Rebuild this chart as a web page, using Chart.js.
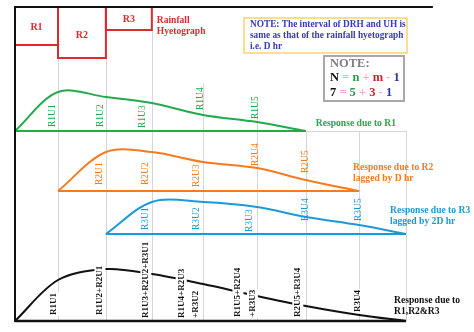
<!DOCTYPE html>
<html lang="en">
<head>
<meta charset="UTF-8">
<title>DRH from a 3-block rainfall hyetograph</title>
<style>
    body { margin: 0; padding: 0; background: #fff; }
    .chart-box { width: 474px; height: 332px; position: relative; }
</style>
</head>
<body>
<div class="chart-box"><canvas id="drh"></canvas></div>

<script src="https://cdn.jsdelivr.net/npm/chart.js"></script>
<script>
// step lines of the D-hr grid (hours, as drawn)
const stepHours = [0, 0.88, 1.86, 2.8, 3.85, 4.95, 5.95, 7.04, 8];

// rainfall blocks
const rainNames = ['R1', 'R2', 'R3'];
const rainDepth = [38, 51, 23];

// ordinates at each step for the three lagged responses and the total DRH
const r1Flow = [0, 39, 34, 28, 16, 9, 0];
const r2Flow = [0, 39, 39, 29, 23, 11, 0];
const r3Flow = [0, 32, 32, 27, 17, 9, 0];
const drhFlow = [0, 41, 52, 47, 37, 25, 15, 6, 0];
const drhLabels = [['R1U1'], ['R1U2+R2U1'], ['R1U3+R2U2+R3U1'], ['R1U4+R2U3', '+R3U2'],
                   ['R1U5+R2U4', '+R3U3'], ['R2U5+R3U4'], ['R3U4']];

// vertical layout of the panels (y units)
const hyetoTop = 314;
const panels = [
    { flow: r1Flow, lag: 0, base: 190, color: '#22aa4c', name: 'R1',
      labelPos: [[-6, 4], [-5, 4], [-9, 3], [-3, 21], [-1, 12]],
      note: ['Response due to R1'], noteAt: [6, 10, -7] },
    { flow: r2Flow, lag: 1, base: 130, color: '#f47b20', name: 'R2',
      labelPos: [[-6, 6], [-6, 6], [-7, 4], [-1, 25], [0, 18]],
      note: ['Response due to R2', 'lagged by D hr'], noteAt: [7, -6, -23] },
    { flow: r3Flow, lag: 2, base: 87, color: '#1b9ad6', name: 'R3',
      labelPos: [[-6, 4], [-7, 4], [-7, 2], [0, 13], [-1, 13]],
      note: ['Response due to R3', 'lagged by 2D hr'], noteAt: [8, -16, -23] }
];
const drhLabelPos = [[-4, 6], [-6, 6], [-6, 3], [-22, 3], [-19, 4], [-8, 4], [-1, 9]];
const gridFrom = [hyetoTop, 263, 263, 291, 238, 224, 190, 190, 190];

const SERIF = '"Liberation Serif", "Times New Roman", serif';

function series(flow, lag, base) {
    return flow.map((q, k) => ({ x: stepHours[k + lag], y: base + q }));
}
function baseLine(from, to, base) {
    return [{ x: stepHours[from], y: base }, { x: stepHours[to], y: base }];
}

const datasets = [];
panels.forEach(p => {
    datasets.push({ data: series(p.flow, p.lag, p.base), borderColor: p.color, borderWidth: 2, tension: 0.33 });
    datasets.push({ data: baseLine(p.lag, p.lag + p.flow.length - 1, p.base), borderColor: p.color, borderWidth: 2 });
});
datasets.push({ data: series(drhFlow, 0, 0), borderColor: '#111', borderWidth: 2, tension: 0.33 });
datasets.push({ data: baseLine(0, 8, 0), borderColor: '#111', borderWidth: 2.5 });

// rotated label, bottom-up, one column per line
function vLabel(ctx, lines, cx, bottom, color, font, backed) {
    ctx.save();
    ctx.translate(cx, bottom);
    ctx.rotate(-Math.PI / 2);
    ctx.font = font;
    ctx.textAlign = 'left';
    ctx.textBaseline = 'middle';
    lines.forEach((s, k) => {
        const w = ctx.measureText(s).width;
        if (backed) {
            ctx.fillStyle = '#fff';
            ctx.fillRect(-1, k * 14.5 - 5.5, w + 2, 11);
        }
        ctx.fillStyle = color;
        ctx.fillText(s, 0, k * 14.5);
    });
    ctx.restore();
}

function textLines(ctx, lines, left, top, gap, color, font) {
    ctx.font = font;
    ctx.fillStyle = color;
    ctx.textAlign = 'left';
    ctx.textBaseline = 'middle';
    lines.forEach((s, k) => ctx.fillText(s, left, top + k * gap));
}

function coloured(ctx, parts, left, y, font) {
    ctx.font = font;
    ctx.textBaseline = 'middle';
    ctx.textAlign = 'left';
    let px = left;
    parts.forEach(([s, c]) => {
        ctx.fillStyle = c;
        ctx.fillText(s, px, y);
        px += ctx.measureText(s).width;
    });
}

const sketch = {
    id: 'sketch',
    beforeDatasetsDraw(chart) {
        const { ctx, scales: { x, y } } = chart;
        ctx.save();
        // step lines
        ctx.strokeStyle = '#d6d6d6';
        ctx.lineWidth = 1;
        stepHours.forEach((t, i) => {
            if (!i) return;
            const px = Math.round(x.getPixelForValue(t)) + 0.5;
            ctx.beginPath();
            ctx.moveTo(px, y.getPixelForValue(gridFrom[i]));
            ctx.lineTo(px, y.getPixelForValue(0));
            ctx.stroke();
        });
        ctx.beginPath();
        ctx.moveTo(x.getPixelForValue(stepHours[6]), y.getPixelForValue(190) + 0.5);
        ctx.lineTo(x.getPixelForValue(stepHours[8]), y.getPixelForValue(190) + 0.5);
        ctx.stroke();

        // rainfall hyetograph blocks hanging from the top line
        ctx.strokeStyle = '#dc2a2e';
        ctx.lineWidth = 2;
        rainDepth.forEach((d, i) => {
            const x0 = x.getPixelForValue(stepHours[i]);
            const x1 = x.getPixelForValue(stepHours[i + 1]);
            const yt = y.getPixelForValue(hyetoTop);
            const yb = y.getPixelForValue(hyetoTop - d);
            ctx.beginPath();
            ctx.moveTo(x0, yt); ctx.lineTo(x0, yb); ctx.lineTo(x1, yb); ctx.lineTo(x1, yt);
            ctx.stroke();
            ctx.font = 'bold 10px ' + SERIF;
            ctx.fillStyle = '#dc2a2e';
            ctx.textAlign = 'center';
            ctx.textBaseline = 'middle';
            ctx.fillText(rainNames[i], (x0 + x1) / 2, yt + (yb - yt) * 0.55);
        });
        textLines(ctx, ['Rainfall', 'Hyetograph'], x.getPixelForValue(stepHours[3]) + 5,
                  y.getPixelForValue(hyetoTop) + 14, 11, '#dc2a2e', 'bold 9.5px ' + SERIF);
        ctx.restore();
    },
    afterDatasetsDraw(chart) {
        const { ctx, scales: { x, y } } = chart;
        ctx.save();
        const labelFont = '9.5px ' + SERIF;

        panels.forEach(p => {
            const yb = y.getPixelForValue(p.base);
            p.labelPos.forEach(([dx, lift], j) => {
                const px = x.getPixelForValue(stepHours[p.lag + j + 1]) + dx;
                vLabel(ctx, [p.name + 'U' + (j + 1)], px, yb - lift, p.color, labelFont, false);
            });
            const [si, nx, ny] = p.noteAt;
            textLines(ctx, p.note, x.getPixelForValue(stepHours[si]) + nx, yb + ny, 11,
                      p.color, 'bold 9.6px ' + SERIF);
        });

        const y0 = y.getPixelForValue(0);
        drhLabelPos.forEach(([dx, lift], j) => {
            const px = x.getPixelForValue(stepHours[j + 1]) + dx;
            vLabel(ctx, drhLabels[j], px, y0 - lift, '#111', 'bold 9px ' + SERIF, true);
        });
        textLines(ctx, ['Response due to', 'R1,R2&R3'], x.getPixelForValue(stepHours[8]) - 12,
                  y0 - 20, 11, '#111', 'bold 9.6px ' + SERIF);

        // frame: top line and time axis
        const left = x.getPixelForValue(0);
        const top = y.getPixelForValue(hyetoTop);
        ctx.strokeStyle = '#111';
        ctx.lineWidth = 2;
        ctx.beginPath();
        ctx.moveTo(left, y0 + 1); ctx.lineTo(left, top); ctx.lineTo(x.getPixelForValue(8.55), top);
        ctx.stroke();

        // notes
        ctx.strokeStyle = '#f7d56a';
        ctx.lineWidth = 1.5;
        ctx.strokeRect(244, 18, 163, 35);
        textLines(ctx, ['NOTE: The interval of DRH and UH is', 'same as that of the rainfall hyetograph', 'i.e. D hr'],
                  250, 25, 11, '#3a3ab8', 'bold 9.3px ' + SERIF);

        ctx.strokeStyle = '#a8a8a8';
        ctx.lineWidth = 2;
        ctx.strokeRect(324, 56, 80, 45);
        textLines(ctx, ['NOTE:'], 330, 64, 0, '#808080', 'bold 12.5px ' + SERIF);
        const op = '#f4a9c8';
        const f2 = 'bold 12.5px ' + SERIF;
        coloured(ctx, [['N', '#111'], [' = ', op], ['n', '#2e9b48'], [' + ', op], ['m', '#d61f26'], [' - ', op], ['1', '#2b3a9e']], 330, 78, f2);
        coloured(ctx, [['7', '#111'], [' = ', op], ['5', '#2e9b48'], [' + ', op], ['3', '#d61f26'], [' - ', op], ['1', '#2b3a9e']], 330, 93, f2);
        ctx.restore();
    }
};

new Chart(document.getElementById('drh'), {
    type: 'scatter',
    data: { datasets },
    options: {
        responsive: true,
        maintainAspectRatio: false,
        animation: false,
        showLine: true,
        layout: { padding: 0 },
        elements: { point: { radius: 0, hoverRadius: 0 } },
        scales: {
            x: { type: 'linear', min: -0.307, max: 9.391, display: false },
            y: { type: 'linear', min: -11, max: 321, display: false }
        },
        plugins: { legend: { display: false }, tooltip: { enabled: false } }
    },
    plugins: [sketch]
});
</script>
</body>
</html>
